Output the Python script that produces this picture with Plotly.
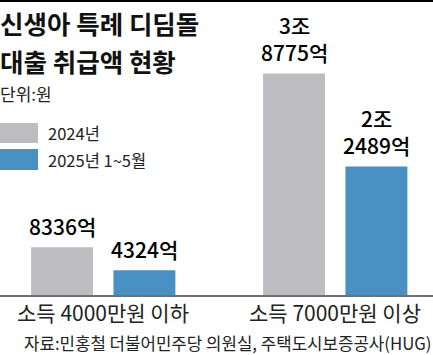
import plotly.graph_objects as go

categories = ["소득 4000만원 이하", "소득 7000만원 이상"]
series_names = ["2024년", "2025년 1~5월"]
values_2024 = [8336, 38775]      # 단위: 억원
values_2025 = [4324, 22489]
colors = ["#BDBDC1", "#4A91C3"]

title_lines = ["신생아 특례 디딤돌", "대출 취급액 현황"]
unit_text = "단위:원"
source_text = "자료:민홍철 더불어민주당 의원실, 주택도시보증공사(HUG)"

W, H = 433, 355
PLOT_H = 295  # plot area height in px (top margin 0)

KR_FONT = "Noto Sans CJK KR, sans-serif"

bar_w = 0.267
offsets = [-0.310, 0.045]


def fmt(v):
    jo, eok = divmod(int(v), 10000)
    if jo:
        return f"{jo}조<br>{eok}억"
    return f"{eok}억"


def py(p):
    return 1 - p / PLOT_H


fig = go.Figure()
annotations = []
for s, (name, vals) in enumerate(zip(series_names, [values_2024, values_2025])):
    fig.add_trace(go.Bar(
        x=categories, y=vals, name=name, width=bar_w, offset=offsets[s],
        marker=dict(color=colors[s], line=dict(width=0)), showlegend=False,
        hoverinfo="skip",
    ))
    for i, v in enumerate(vals):
        annotations.append(dict(
            x=i + offsets[s] + bar_w / 2, y=v, xref="x", yref="y",
            text=fmt(v), showarrow=False, yanchor="bottom", xanchor="center",
            yshift=4, align="center",
            font=dict(family=KR_FONT, size=21, color="#000", weight=500),
        ))

# titles
for k, (line, cy) in enumerate(zip(title_lines, [23, 60])):
    annotations.append(dict(x=0, y=py(cy), xref="paper", yref="paper", xanchor="left", yanchor="middle",
                            text="<b>" + line + "</b>", showarrow=False, align="left",
                            font=dict(family=KR_FONT, size=25.5, color="#111"), xshift=-2))
annotations.append(dict(x=0, y=py(94), xref="paper", yref="paper", xanchor="left", yanchor="middle",
                        text=unit_text, showarrow=False,
                        font=dict(family=KR_FONT, size=17, color="#222"), xshift=-2))

shapes = [dict(type="line", xref="paper", yref="paper", x0=0, x1=1, y0=py(1), y1=py(1),
               line=dict(color="#000", width=2))]
leg_y = [(123, 143), (149, 170)]
for s, name in enumerate(series_names):
    y0, y1 = leg_y[s]
    shapes.append(dict(type="rect", xref="paper", yref="paper", x0=0, x1=38 / W,
                       y0=py(y1), y1=py(y0), fillcolor=colors[s], line=dict(width=0)))
    annotations.append(dict(x=46 / W, y=py((y0 + y1) / 2), xref="paper", yref="paper",
                            xanchor="left", yanchor="middle", text=name, showarrow=False,
                            font=dict(family=KR_FONT, size=16.5, color="#222")))

annotations.append(dict(x=1, y=py(343), xref="paper", yref="paper", xanchor="right", yanchor="middle",
                        text=source_text, showarrow=False,
                        font=dict(family=KR_FONT, size=16.8, color="#222")))

ymax = PLOT_H * 175
fig.update_layout(
    width=W, height=H, margin=dict(l=0, r=0, t=0, b=H - PLOT_H, pad=0),
    paper_bgcolor="white", plot_bgcolor="white",
    barmode="group",
    xaxis=dict(type="category", range=[-103 / 232, 330 / 232], showgrid=False, zeroline=False,
               showline=True, linecolor="#707070", linewidth=2, ticks="",
               tickfont=dict(family=KR_FONT, size=21, color="#222"), ticklabelstandoff=-1),
    yaxis=dict(range=[0, ymax], visible=False, showgrid=False, zeroline=False),
    annotations=annotations, shapes=shapes,
)

fig.write_html("out.html")
